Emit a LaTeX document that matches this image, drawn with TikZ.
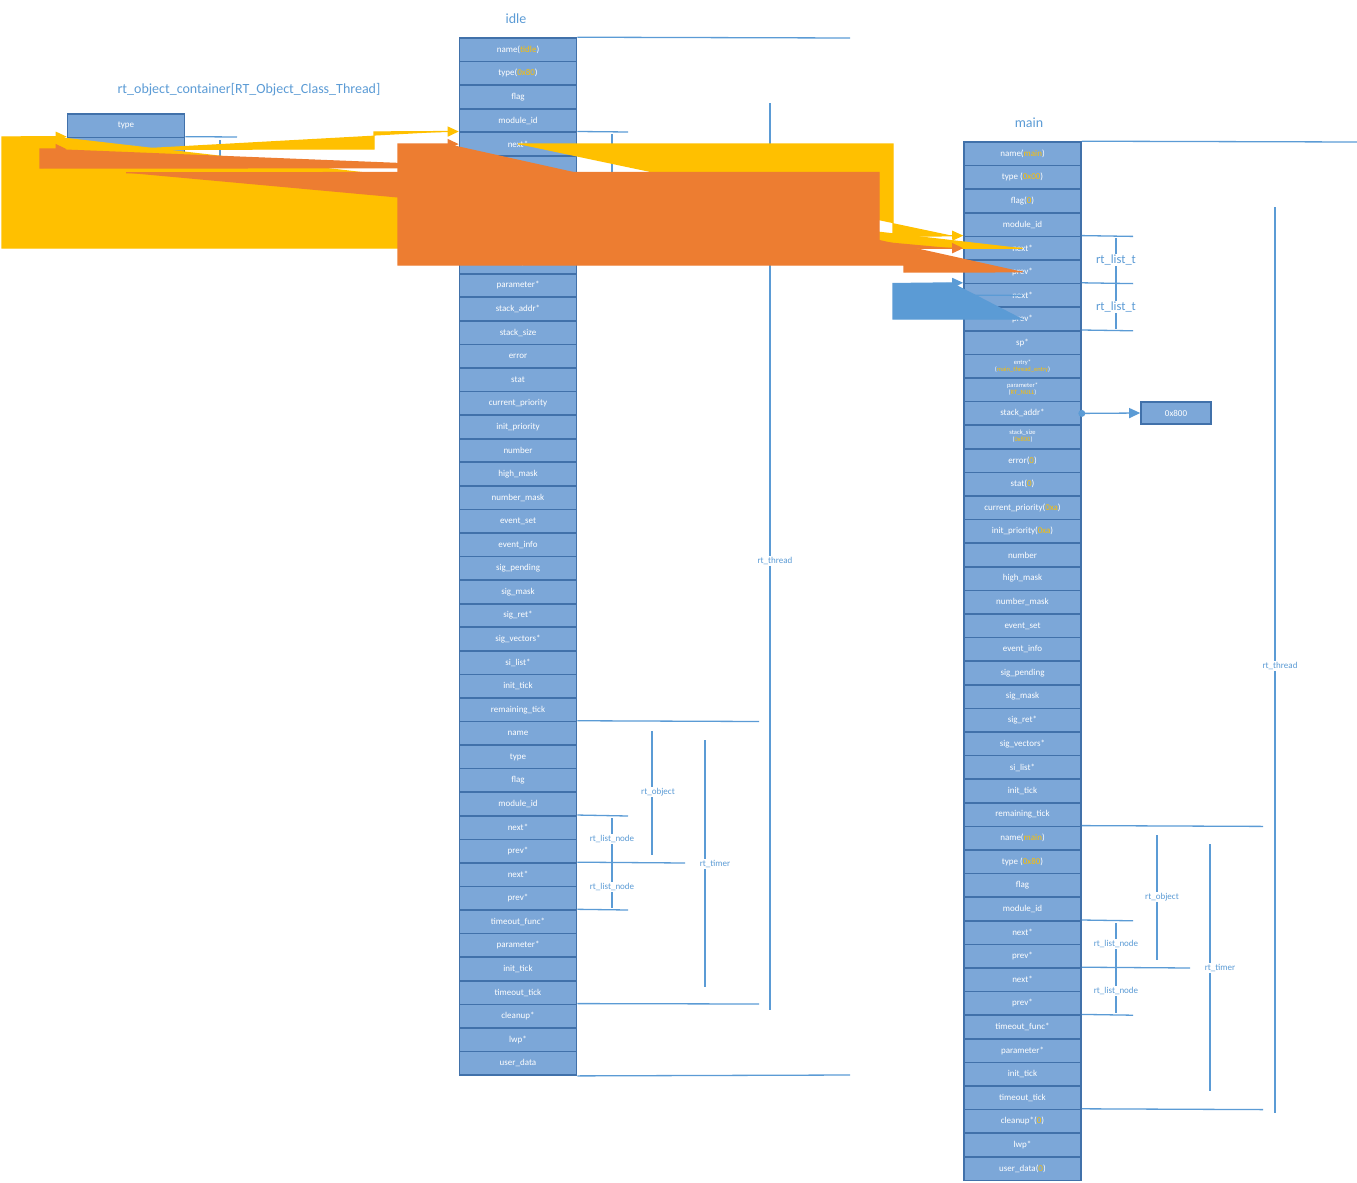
\documentclass[tikz,border=0pt]{standalone}
\usepackage{fontspec}
\setmainfont{Carlito}
\usetikzlibrary{arrows.meta}
\definecolor{boxf}{RGB}{124,167,216}
\definecolor{boxd}{RGB}{65,113,170}
\definecolor{lb}{RGB}{91,155,213}
\definecolor{yel}{RGB}{255,192,0}
\definecolor{ora}{RGB}{237,125,49}
\protected\def\hl#1{\textcolor{yel}{#1}}
\protected\def\twol#1#2{\fontsize{6.5}{7}\selectfont\begin{tabular}{@{}c@{}}#1\\(\hl{#2})\end{tabular}}
\begin{document}
\begin{tikzpicture}[x=1pt,y=-1pt,
 row/.style={rectangle,draw=boxd,line width=1.6pt,fill=boxf,text=white,minimum width=117pt,minimum height=23.6pt,inner sep=0pt,font=\fontsize{9}{9.5}\selectfont},
 br/.style={draw=lb,line width=1.3pt},
 lab/.style={fill=white,text=lb,inner sep=1pt,font=\fontsize{9}{10}\selectfont},
 labb/.style={fill=white,text=lb,inner sep=1pt,font=\fontsize{12.5}{13}\selectfont},
 ttl/.style={text=lb,font=\fontsize{14}{15}\selectfont},
 ar/.style={line width=1.3pt,-{Triangle[length=11pt,width=10pt]}},
 yl/.style={ar,draw=yel,fill=yel},
 ol/.style={ar,draw=ora,fill=ora},
 bl/.style={ar,draw=lb,fill=lb}]
\useasboundingbox (0,0) rectangle (1357,1183);
% titles
\node[ttl] (tidle) at (516,19) {idle};
\node[ttl] (tmain) at (1029,123) {main};
\node[ttl] (tcont) at (249,90) {rt\_object\_container[RT\_Object\_Class\_Thread]};
% container
\foreach \t [count=\i from 0] in {type,next*,prev*,object\_size}
  \node[row,minimum height=23.5pt] (c\i) at (126,125.7+23.5*\i) {\t};
% idle
\foreach \t [count=\i from 0] in {name(\hl{tidle}),type(\hl{0x80}),flag,module\_id,next*,prev*,next*,prev*,sp*,entry*,parameter*,stack\_addr*,stack\_size,error,stat,current\_priority,init\_priority,number,high\_mask,number\_mask,event\_set,event\_info,sig\_pending,sig\_mask,sig\_ret*,sig\_vectors*,si\_list*,init\_tick,remaining\_tick,name,type,flag,module\_id,next*,prev*,next*,prev*,timeout\_func*,parameter*,init\_tick,timeout\_tick,cleanup*,lwp*,user\_data}
  \node[row,minimum height=23.57pt] (i\i) at (518,49.8+23.57*\i) {\t};
% main
\foreach \t [count=\i from 0] in {name(\hl{main}),type (\hl{0x00}),flag(\hl{0}),module\_id,next*,prev*,next*,prev*,sp*,{\twol{entry*}{main\_thread\_entry}},{\twol{parameter*}{RT\_NULL}},stack\_addr*,{\twol{stack\_size}{0x800}},error(\hl{0}),stat(\hl{0}),current\_priority(\hl{0xa}),init\_priority(\hl{0xa}),number,high\_mask,number\_mask,event\_set,event\_info,sig\_pending,sig\_mask,sig\_ret*,sig\_vectors*,si\_list*,init\_tick,remaining\_tick,name(\hl{main}),type (\hl{0x80}),flag,module\_id,next*,prev*,next*,prev*,timeout\_func*,parameter*,init\_tick,timeout\_tick,cleanup*(\hl{0}),lwp*,user\_data(\hl{0})}
  \node[row,minimum height=23.6pt] (m\i) at (1022.5,153.8+23.6*\i) {\t};
\node[row,minimum width=70pt,minimum height=22pt] (stk) at (1176,413) {0x800};
% container bracket
\draw[br] (c1.north east) -- (237,137);
\draw[br] (c3.north east) -- (237,184);
\draw[br] (220,140) -- (220,182);
\node[lab] (lol) at (220,161) {object\_list};
% idle brackets
\draw[br] (i4.north east) -- (628,132);
\draw[br] (i6.north east) -- (628,179);
\draw[br] (i8.north east) -- (628,226);
\draw[br] (612,134) -- (612,224);
\node[labb] (il1) at (612,156) {rt\_list\_t};
\node[labb] (il2) at (612,203) {rt\_list\_t};
\draw[br] (i0.north east) -- (850,38);
\draw[br] (i29.north east) -- (759,721.5);
\draw[br] (i41.north east) -- (759,1004);
\draw[br] (i43.south east) -- (850,1075);
\draw[br] (770,103) -- (770,1010);
\node[lab] (irt) at (775,561) {rt\_thread};
\draw[br] (652,731) -- (652,855);
\node[lab] (iro) at (658,792) {rt\_object};
\draw[br] (705,740) -- (705,987);
\node[lab] (irtm) at (715,864) {rt\_timer};
\draw[br] (i33.north east) -- (628,816);
\draw[br] (i35.north east) -- (685,863);
\draw[br] (i37.north east) -- (628,910);
\draw[br] (612,818) -- (612,908);
\node[lab] (in1) at (612,839) {rt\_list\_node};
\node[lab] (in2) at (612,887) {rt\_list\_node};
% main brackets
\draw[br] (m0.north east) -- (1357,142);
\draw[br] (m4.north east) -- (1133,236.4);
\draw[br] (m6.north east) -- (1133,283.6);
\draw[br] (m8.north east) -- (1133,330.8);
\draw[br] (1116,238) -- (1116,329);
\node[labb] (ml1) at (1116,260) {rt\_list\_t};
\node[labb] (ml2) at (1116,307) {rt\_list\_t};
\draw[br] (1275,207) -- (1275,1113);
\node[lab] (mrt) at (1280,666) {rt\_thread};
\draw[br] (m29.north east) -- (1263,826.4);
\draw[br] (m41.north east) -- (1263,1109.6);
\draw[br] (1157,835) -- (1157,960);
\node[lab] (mro) at (1162,897) {rt\_object};
\draw[br] (1210,844) -- (1210,1091);
\node[lab] (mrtm) at (1220,968) {rt\_timer};
\draw[br] (m33.north east) -- (1133,920.8);
\draw[br] (m35.north east) -- (1190,968);
\draw[br] (m37.north east) -- (1133,1015.2);
\draw[br] (1116,923) -- (1116,1013);
\node[lab] (mn1) at (1116,944) {rt\_list\_node};
\node[lab] (mn2) at (1116,991) {rt\_list\_node};
% connectors
\draw[yl] (c1.center) -- (374,149) -- (374,132) -- (i4.north west);
\draw[yl] (i4.center) -- (893,144) -- (893,236.4) -- (m4.north west);
\draw[yl] (m4.center) -- (2,248) -- (2,137) -- (c1.north west);
\draw[ol] (c2.center) -- (879,172.5) -- (879,248) -- (m4.west);
\draw[ol] (m5.center) -- (904,272) -- (904,265) -- (398,265) -- (398,144) -- (i4.west);
\draw[ol] (i5.center) -- (40,168) -- (40,149) -- (c1.west);
\draw[bl] (m7.center) -- (893,319) -- (893,283.6) -- (m6.north west);
\draw[line width=1.3pt,draw=lb] (m6.center) -- (930,295) -- (930,283.6);
\fill[lb] (m11.east) circle (3.5pt);
\draw[bl] (m11.east) -- (stk.west);
\end{tikzpicture}
\end{document}
